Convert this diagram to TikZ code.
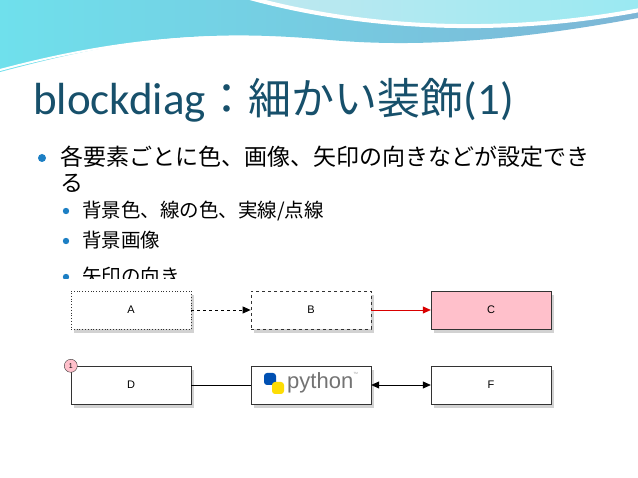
\documentclass[tikz,border=0pt]{standalone}
\usepackage{fontspec}
\setmainfont{Carlito}
\newfontfamily\cjk{Noto Sans CJK JP}
\newfontfamily\lbl{Liberation Sans}
\usetikzlibrary{arrows.meta,positioning,shadows}
\definecolor{titleblue}{HTML}{17506B}
\definecolor{dotblue}{HTML}{1C7FC4}
\definecolor{wavea}{HTML}{7DB6D6}
\definecolor{waveb}{HTML}{6FE0EC}
\definecolor{wavec}{HTML}{BFE8F0}
\definecolor{blkpink}{HTML}{FFC0CB}
\tikzset{
   blk/.style={draw=black!80,fill=white,minimum width=120pt,minimum height=38pt,
      font=\lbl\fontsize{11}{11}\selectfont,
      drop shadow={shadow xshift=3pt,shadow yshift=-4pt,fill=black!35}},
   lvlone/.style={anchor=base west,font=\cjk\fontsize{23}{28}\selectfont},
   lvltwo/.style={anchor=base west,font=\cjk\fontsize{19.5}{24}\selectfont},
   arr/.style={-{Triangle[length=8pt,width=7pt]}}
}
\begin{document}
\begin{tikzpicture}[x=1pt,y=-1pt]
   \useasboundingbox (0,0) rectangle (638,478);
   \fill[white] (0,0) rectangle (638,478);

   % header waves
   \shade[left color=waveb,right color=wavea] (0,0) -- (0,72)
      .. controls (120,40) and (200,28) .. (330,40)
      .. controls (420,48) and (520,40) .. (638,18) -- (638,0) -- cycle;
   \shade[left color=wavec,right color=waveb!70] (250,0)
      .. controls (330,20) and (470,40) .. (638,10) -- (638,0) -- cycle;
   \draw[white,line width=4pt] (250,-2) .. controls (330,20) and (470,42) .. (640,10);
   \draw[white,line width=2pt] (0,70) .. controls (120,38) and (220,30) .. (330,43)
      .. controls (430,52) and (530,44) .. (640,20);

   % title and bullets
   \node[anchor=base west,text=titleblue,inner sep=0pt] (title) at (33,115)
      {\fontsize{45}{50}\selectfont blockdiag{\cjk\fontsize{43}{50}\selectfont ：細かい装飾}(1)};
   \fill[dotblue] (42,158) circle (4);
   \node[lvlone,inner sep=0pt] (b1) at (60,166) {各要素ごとに色、画像、矢印の向きなどが設定でき};
   \node[lvlone,inner sep=0pt] (b2) at (60,192) {る};
   \foreach \y/\t [count=\i] in {218/{背景色、線の色、実線/点線},248/背景画像,284/矢印の向き}{
      \fill[dotblue] (66,\y-7) circle (3.2);
      \node[lvltwo,inner sep=0pt] (s\i) at (82,\y) {\t};
   }

   % diagram image
   \fill[white] (62,279) rectangle (567,421);
   \node[blk,dotted,thick] (A) at (131,310) {A};
   \node[blk,dashed,thick] (B) at (311,310) {B};
   \node[blk,fill=blkpink] (C) at (491,310) {C};
   \node[blk] (D) at (131,385) {D};
   \node[blk] (P) at (311,385) {};
   \node[blk] (F) at (491,385) {F};
   \node[circle,draw=black!80,fill=blkpink,minimum size=13pt,inner sep=0pt,
      font=\lbl\fontsize{7}{7}\selectfont] (n1) at (D.north west) {1};

   % python logo
   \fill[rounded corners=3pt,fill=blue!55!cyan!70!black] (264,373) rectangle (276,385);
   \fill[rounded corners=3pt,fill=yellow!80!orange] (272,382) rectangle (284,394);
   \node[anchor=west,text=black!55,inner sep=0pt,font=\lbl\fontsize{22}{22}\selectfont]
      (pt) at (287,383) {python};
   \node[anchor=north west,text=black!40,inner sep=0pt,font=\lbl\fontsize{3}{3}\selectfont]
      at (pt.north east) {TM};

   \draw[arr,dashed,thick] (A) -- (B);
   \draw[arr,red!85!black,thick] (B) -- (C);
   \draw[thick] (D) -- (P);
   \draw[arr,{Triangle[length=8pt,width=7pt]}-{Triangle[length=8pt,width=7pt]},thick] (P) -- (F);
\end{tikzpicture}
\end{document}
